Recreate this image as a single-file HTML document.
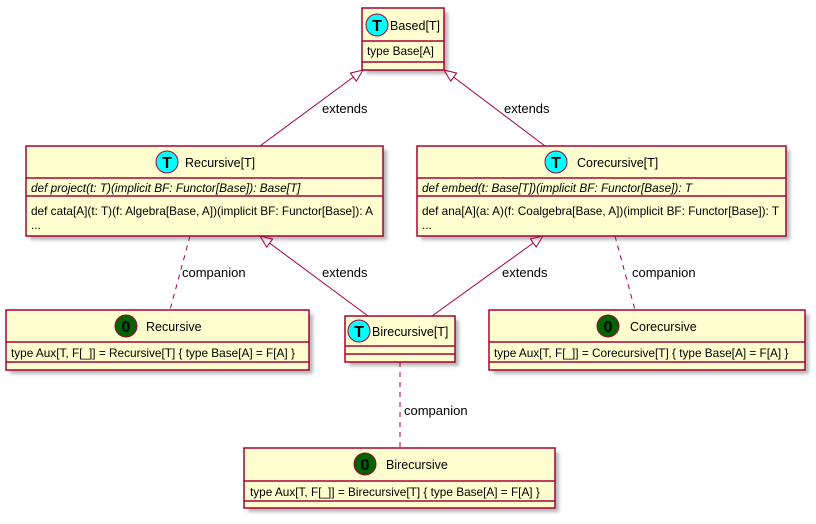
<!DOCTYPE html>
<html><head><meta charset="utf-8"><style>
body{margin:0;background:#fff;width:816px;height:519px;overflow:hidden}
text{font-family:"Liberation Sans",sans-serif;fill:#000}
</style></head><body>
<svg width="816" height="519" xmlns="http://www.w3.org/2000/svg">
<defs><filter id="sh" x="-5%" y="-5%" width="115%" height="130%"><feGaussianBlur stdDeviation="1.5"/></filter></defs>
<g fill="#888" opacity="0.6" filter="url(#sh)">
<rect x="366" y="12" width="82" height="62"/>
<rect x="30" y="150" width="357" height="90"/>
<rect x="421" y="150" width="369" height="90"/>
<rect x="10" y="314" width="303" height="60"/>
<rect x="349" y="320" width="110" height="46"/>
<rect x="493" y="314" width="316" height="60"/>
<rect x="248" y="452" width="311" height="60"/>
</g>
<g stroke="#A80036" stroke-width="1" fill="none">
<line x1="353.3" y1="77.1" x2="260" y2="146"/>
<polygon points="363,70 356.3,81.1 350.3,73.1"/>
<line x1="453.7" y1="77.1" x2="545" y2="146"/>
<polygon points="444,70 450.7,81.1 456.7,73.1"/>
<line x1="269.6" y1="243.1" x2="368" y2="316"/>
<polygon points="260,236 266.7,247.2 272.6,239.1"/>
<line x1="533.3" y1="243" x2="432" y2="316"/>
<polygon points="543,236 536.2,247.1 530.4,238.9"/>
<g stroke-dasharray="5,5">
<line x1="190" y1="236" x2="170" y2="310"/>
<line x1="615" y1="236" x2="635" y2="310"/>
<line x1="400" y1="362" x2="400" y2="448"/>
</g>
</g>
<g font-size="13">
<text x="322" y="113">extends</text>
<text x="504" y="113">extends</text>
<text x="322" y="277">extends</text>
<text x="502" y="277">extends</text>
<text x="182" y="277">companion</text>
<text x="632" y="277">companion</text>
<text x="404" y="415">companion</text>
</g>
<g fill="#FEFECE" stroke="#A80036" stroke-width="1.5">
<rect x="362" y="8" width="82" height="62"/>
<rect x="26" y="146" width="357" height="90"/>
<rect x="417" y="146" width="369" height="90"/>
<rect x="6" y="310" width="303" height="60"/>
<rect x="345" y="316" width="110" height="46"/>
<rect x="489" y="310" width="316" height="60"/>
<rect x="244" y="448" width="311" height="60"/>
</g>
<g stroke="#A80036" stroke-width="1.5">
<line x1="362" y1="41" x2="444" y2="41"/><line x1="362" y1="62" x2="444" y2="62"/>
<line x1="26" y1="178" x2="383" y2="178"/><line x1="26" y1="196" x2="383" y2="196"/>
<line x1="417" y1="178" x2="786" y2="178"/><line x1="417" y1="196" x2="786" y2="196"/>
<line x1="6" y1="342" x2="309" y2="342"/><line x1="6" y1="362" x2="309" y2="362"/>
<line x1="345" y1="346" x2="455" y2="346"/><line x1="345" y1="354" x2="455" y2="354"/>
<line x1="489" y1="342" x2="805" y2="342"/><line x1="489" y1="362" x2="805" y2="362"/>
<line x1="244" y1="481" x2="555" y2="481"/><line x1="244" y1="501" x2="555" y2="501"/>
</g>
<g stroke="#A80036" stroke-width="1">
<circle cx="377" cy="25" r="11" fill="#00FFFF"/>
<circle cx="167" cy="162" r="11" fill="#00FFFF"/>
<circle cx="556" cy="162" r="11" fill="#00FFFF"/>
<circle cx="126" cy="326" r="11" fill="#006400"/>
<circle cx="359" cy="331" r="11" fill="#00FFFF"/>
<circle cx="608" cy="326" r="11" fill="#006400"/>
<circle cx="365" cy="464" r="11" fill="#006400"/>
</g>
<g font-size="16" font-weight="bold" text-anchor="middle">
<text x="377" y="31">T</text><text x="167" y="168">T</text><text x="556" y="168">T</text>
<text x="126" y="332">0</text><text x="359" y="337">T</text><text x="608" y="332">0</text><text x="365" y="470">0</text>
</g>
<g font-size="12.5">
<text x="390" y="30">Based[T]</text>
<text x="185" y="167">Recursive[T]</text>
<text x="577" y="167">Corecursive[T]</text>
<text x="146" y="331">Recursive</text>
<text x="372" y="336">Birecursive[T]</text>
<text x="630" y="331">Corecursive</text>
<text x="386" y="469">Birecursive</text>
</g>
<g font-size="11.8">
<text x="367" y="55">type Base[A]</text>
<text x="31" y="192" font-style="italic">def project(t: T)(implicit BF: Functor[Base]): Base[T]</text>
<text x="31" y="215">def cata[A](t: T)(f: Algebra[Base, A])(implicit BF: Functor[Base]): A</text>
<text x="31" y="229">...</text>
<text x="422" y="192" font-style="italic">def embed(t: Base[T])(implicit BF: Functor[Base]): T</text>
<text x="422" y="215">def ana[A](a: A)(f: Coalgebra[Base, A])(implicit BF: Functor[Base]): T</text>
<text x="422" y="229">...</text>
<text x="11" y="357">type Aux[T, F[_]] = Recursive[T] { type Base[A] = F[A] }</text>
<text x="494" y="357">type Aux[T, F[_]] = Corecursive[T] { type Base[A] = F[A] }</text>
<text x="250" y="496">type Aux[T, F[_]] = Birecursive[T] { type Base[A] = F[A] }</text>
</g>
</svg>
</body></html>
